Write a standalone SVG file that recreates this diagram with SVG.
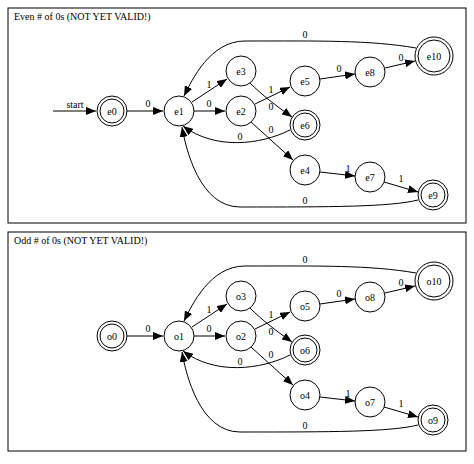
<svg xmlns="http://www.w3.org/2000/svg" width="474" height="464" viewBox="0 0 474 464">
<defs><marker id="a" viewBox="0 0 10 8" refX="10" refY="4" markerWidth="10" markerHeight="8" markerUnits="userSpaceOnUse" orient="auto"><path d="M0,0L10,4L0,8z" fill="#000"/></marker></defs>
<style>
text{font-family:"Liberation Serif",serif;font-size:10px;fill:#000}
.n text{text-anchor:middle;dominant-baseline:central}
.l{text-anchor:middle}
circle{fill:none;stroke:#000;stroke-width:1}
.e path{fill:none;stroke:#000;stroke-width:1;marker-end:url(#a)}
.p{fill:#fff;stroke:#000;stroke-width:1}
</style>
<rect width="474" height="464" fill="#fff"/>
<rect class="p" x="8" y="8" width="458" height="215"/>
<text x="14" y="20">Even # of 0s (NOT YET VALID!)</text>
<rect class="p" x="8" y="232" width="458" height="219"/>
<text x="14" y="244">Odd # of 0s (NOT YET VALID!)</text>
<g class="e" id="edges-even">
<path d="M53,111H96"/><text class="l" x="75" y="108">start</text>
<path d="M127,111H163"/><text class="l" x="148" y="107">0</text>
<path d="M192,102L227,79"/><text class="l" x="209" y="88">1</text>
<path d="M194,111H225"/><text class="l" x="209" y="107">0</text>
<path d="M255,104L290,87"/><text class="l" x="271" y="93">1</text>
<path d="M250,83C262,95 275,105 292,117"/><text class="l" x="271" y="110">0</text>
<path d="M251,122L293,160"/><text class="l" x="271" y="133">0</text>
<path d="M290,130C260,145 215,150 183,126"/><text class="l" x="240" y="140">0</text>
<path d="M320,79L355,74"/><text class="l" x="339" y="72">0</text>
<path d="M385,68L415,61"/><text class="l" x="401" y="61">0</text>
<path d="M416,48C370,40 320,41 245,41C210,41 192,80 184,96"/><text class="l" x="305" y="38">0</text>
<path d="M320,172L355,176"/><text class="l" x="348" y="172">1</text>
<path d="M384,182L418,192"/><text class="l" x="401" y="182">1</text>
<path d="M418,200C390,207 330,207 240,207C200,207 186,150 182,127"/><text class="l" x="305" y="204">0</text>
</g>
<g class="n" id="e0"><circle cx="112" cy="111" r="15"/><circle cx="112" cy="111" r="12"/><text x="112" y="111">e0</text></g>
<g class="n" id="e1"><circle cx="179" cy="111" r="15"/><text x="179" y="111">e1</text></g>
<g class="n" id="e2"><circle cx="241" cy="111" r="15"/><text x="241" y="111">e2</text></g>
<g class="n" id="e3"><circle cx="241" cy="71" r="15"/><text x="241" y="71">e3</text></g>
<g class="n" id="e4"><circle cx="305" cy="170" r="15"/><text x="305" y="170">e4</text></g>
<g class="n" id="e5"><circle cx="305" cy="81" r="15"/><text x="305" y="81">e5</text></g>
<g class="n" id="e6"><circle cx="305" cy="125" r="15"/><circle cx="305" cy="125" r="12"/><text x="305" y="125">e6</text></g>
<g class="n" id="e7"><circle cx="370" cy="177" r="15"/><text x="370" y="177">e7</text></g>
<g class="n" id="e8"><circle cx="370" cy="72" r="15"/><text x="370" y="72">e8</text></g>
<g class="n" id="e9"><circle cx="433" cy="195" r="15"/><circle cx="433" cy="195" r="12"/><text x="433" y="195">e9</text></g>
<g class="n" id="e10"><circle cx="434" cy="56" r="19"/><circle cx="434" cy="56" r="16"/><text x="434" y="56">e10</text></g>
<g class="e" id="edges-odd" transform="translate(0,225)">
<path d="M127,111H163"/><text class="l" x="148" y="107">0</text>
<path d="M192,102L227,79"/><text class="l" x="209" y="88">1</text>
<path d="M194,111H225"/><text class="l" x="209" y="107">0</text>
<path d="M255,104L290,87"/><text class="l" x="271" y="93">1</text>
<path d="M250,83C262,95 275,105 292,117"/><text class="l" x="271" y="110">0</text>
<path d="M251,122L293,160"/><text class="l" x="271" y="133">0</text>
<path d="M290,130C260,145 215,150 183,126"/><text class="l" x="240" y="140">0</text>
<path d="M320,79L355,74"/><text class="l" x="339" y="72">0</text>
<path d="M385,68L415,61"/><text class="l" x="401" y="61">0</text>
<path d="M416,48C370,40 320,41 245,41C210,41 192,80 184,96"/><text class="l" x="305" y="38">0</text>
<path d="M320,172L355,176"/><text class="l" x="348" y="172">1</text>
<path d="M384,182L418,192"/><text class="l" x="401" y="182">1</text>
<path d="M418,200C390,207 330,207 240,207C200,207 186,150 182,127"/><text class="l" x="305" y="204">0</text>
</g>
<g class="n" id="o0"><circle cx="112" cy="336" r="15"/><circle cx="112" cy="336" r="12"/><text x="112" y="336">o0</text></g>
<g class="n" id="o1"><circle cx="179" cy="336" r="15"/><text x="179" y="336">o1</text></g>
<g class="n" id="o2"><circle cx="241" cy="336" r="15"/><text x="241" y="336">o2</text></g>
<g class="n" id="o3"><circle cx="241" cy="296" r="15"/><text x="241" y="296">o3</text></g>
<g class="n" id="o4"><circle cx="305" cy="395" r="15"/><text x="305" y="395">o4</text></g>
<g class="n" id="o5"><circle cx="305" cy="306" r="15"/><text x="305" y="306">o5</text></g>
<g class="n" id="o6"><circle cx="305" cy="350" r="15"/><circle cx="305" cy="350" r="12"/><text x="305" y="350">o6</text></g>
<g class="n" id="o7"><circle cx="370" cy="402" r="15"/><text x="370" y="402">o7</text></g>
<g class="n" id="o8"><circle cx="370" cy="297" r="15"/><text x="370" y="297">o8</text></g>
<g class="n" id="o9"><circle cx="433" cy="420" r="15"/><circle cx="433" cy="420" r="12"/><text x="433" y="420">o9</text></g>
<g class="n" id="o10"><circle cx="434" cy="281" r="19"/><circle cx="434" cy="281" r="16"/><text x="434" y="281">o10</text></g>
</svg>
